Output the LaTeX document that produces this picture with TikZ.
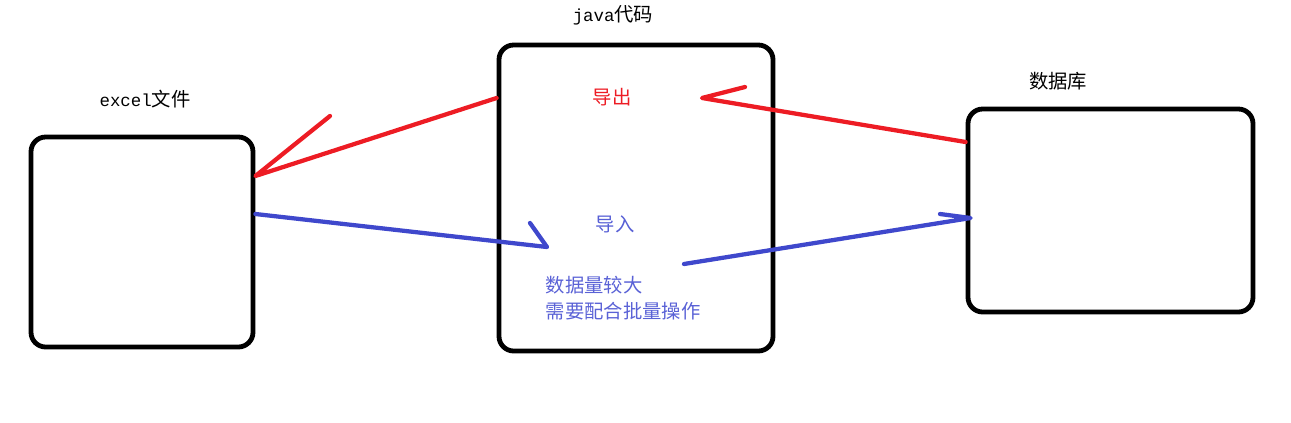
\documentclass[tikz,border=0pt]{standalone}
\usepackage{fontspec}
\setmonofont[Scale=0.9]{Liberation Mono}
\newfontfamily\cjk{Noto Sans CJK SC}
\definecolor{penred}{HTML}{ED1C24}
\definecolor{penblue}{HTML}{3F48CC}
\definecolor{noteblue}{HTML}{5A62D6}

\tikzset{
  box/.style={draw, line width=3.6pt, rounded corners=11pt, inner sep=0pt},
  title/.style={font=\fontsize{14.5}{17}\selectfont\cjk},
  redpen/.style={draw=penred, line width=3.2pt, line cap=round, line join=round},
  bluepen/.style={draw=penblue, line width=3.2pt, line cap=round, line join=round}
}

\begin{document}
\begin{tikzpicture}[x=0.75pt, y=-0.75pt]
  \useasboundingbox (0,0) rectangle (1291,422);

  % Boxes
  \node[box, minimum width=166.5pt, minimum height=157.5pt] (excel) at (142,242) {};
  \node[box, minimum width=205.5pt, minimum height=229.5pt] (java) at (636,198) {};
  \node[box, minimum width=213.75pt, minimum height=152.25pt] (db) at (1110.5,210.5) {};

  % Box titles
  \node[title] (excelname) at (145,99) {\texttt{excel}文件};
  \node[title] (javaname) at (613,15) {\texttt{java}代码};
  \node[title] (dbname) at (1058,81) {数据库};

  % Texts inside the java box
  \node[title, text=penred] (export) at (612,97) {导出};
  \node[title, text=noteblue!90!penblue] (import) at (615,224) {导入};
  \node[title, text=noteblue, anchor=west, align=left,
        font=\fontsize{14.5}{20}\selectfont\cjk] (note) at (541,298)
        {数据量较大\\需要配合批量操作};

  % Free ends of the pen strokes
  \coordinate (exportin) at (702,98);
  \coordinate (exportbarb) at (745,87);
  \coordinate (excelbarb) at (330,116);
  \coordinate (importin) at (547,247);
  \coordinate (importbarb) at (530,223);
  \coordinate (importout) at (684,264);
  \coordinate (dbbarb) at (940,214);

  % Export: database -> java -> excel
  \draw[redpen] (db.west |- 0,142) -- (exportin) -- (exportbarb);
  \draw[redpen] (java.west |- 0,98) -- (excel.east |- 0,176) -- (excelbarb);

  % Import: excel -> java -> database
  \draw[bluepen] (excel.east |- 0,214) -- (importin) -- (importbarb);
  \draw[bluepen] (importout) -- ([xshift=3.75pt]db.west |- 0,218) -- (dbbarb);
\end{tikzpicture}
\end{document}
